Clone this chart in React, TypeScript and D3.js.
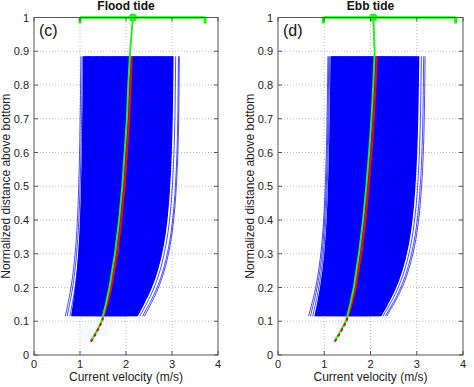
import React from 'react';
import * as d3 from 'd3';

// velocity axis and height axis ticks
const xTicks = [0, 1, 2, 3, 4];
const yTicks = [0, 0.1, 0.2, 0.3, 0.4, 0.5, 0.6, 0.7, 0.8, 0.9, 1];

// levels of the fitted / mean profiles
const fitLevels = [0.04, 0.06, 0.08, 0.1, 0.15, 0.2, 0.3, 0.4, 0.5, 0.6, 0.7, 0.8, 0.9, 1.0];
const floodFit = [1.23, 1.32, 1.4, 1.47, 1.56, 1.64, 1.76, 1.85, 1.92, 1.97, 2.02, 2.05, 2.09, 2.15];
const floodMean = [1.24, 1.33, 1.41, 1.48, 1.59, 1.68, 1.81, 1.9, 1.97, 2.02, 2.07, 2.1, 2.13];
const ebbFit = [1.22, 1.31, 1.39, 1.47, 1.56, 1.64, 1.75, 1.84, 1.91, 1.97, 2.02, 2.06, 2.09, 2.06];
const ebbMean = [1.23, 1.32, 1.4, 1.48, 1.59, 1.68, 1.8, 1.89, 1.96, 2.02, 2.07, 2.11, 2.14];

// surface error bar: [low, centre, high] at z = 1
const floodBar = [1.0, 2.15, 3.72];
const ebbBar = [0.98, 2.06, 3.84];

// measured profiles: velocity at z = 0.115, bend near z = 0.3, and z = 0.885
const floodBottom = [0.68, 0.72, 0.78, 0.82, 0.86, 0.9, 0.93, 0.96, 1.0, 1.03, 1.06, 1.09, 1.12, 1.15, 1.18, 1.21, 1.24, 1.27, 1.3, 1.33, 1.36, 1.39, 1.42, 1.45, 1.48, 1.51, 1.54, 1.57, 1.6, 1.63, 1.66, 1.69, 1.72, 1.75, 1.78, 1.81, 1.84, 1.87, 1.9, 1.93, 1.96, 1.99, 2.02, 2.06, 2.1, 2.14, 2.18, 2.24, 2.3, 2.36, 2.4];
const floodMid = [0.97, 1.0, 1.04, 1.03, 1.09, 1.13, 1.12, 1.19, 1.24, 1.28, 1.32, 1.36, 1.4, 1.44, 1.49, 1.53, 1.57, 1.61, 1.66, 1.7, 1.74, 1.79, 1.83, 1.87, 1.91, 1.96, 2.0, 2.04, 2.08, 2.13, 2.17, 2.21, 2.25, 2.3, 2.34, 2.38, 2.43, 2.47, 2.52, 2.56, 2.6, 2.65, 2.69, 2.74, 2.8, 2.86, 2.91, 2.97, 3.03, 3.1, 3.12];
const floodTop = [1.02, 1.05, 1.1, 1.08, 1.15, 1.2, 1.18, 1.25, 1.3, 1.35, 1.38, 1.42, 1.47, 1.5, 1.55, 1.6, 1.63, 1.68, 1.72, 1.77, 1.8, 1.85, 1.9, 1.93, 1.98, 2.02, 2.06, 2.1, 2.15, 2.19, 2.23, 2.27, 2.32, 2.36, 2.4, 2.45, 2.49, 2.53, 2.58, 2.62, 2.66, 2.71, 2.75, 2.8, 2.86, 2.92, 2.97, 3.02, 3.08, 3.14, 3.16];
const ebbBottom = [0.66, 0.7, 0.75, 0.8, 0.84, 0.88, 0.92, 0.95, 0.99, 1.02, 1.05, 1.08, 1.11, 1.14, 1.17, 1.2, 1.23, 1.26, 1.29, 1.32, 1.35, 1.38, 1.41, 1.44, 1.47, 1.5, 1.53, 1.56, 1.59, 1.62, 1.65, 1.68, 1.71, 1.74, 1.77, 1.8, 1.83, 1.86, 1.89, 1.92, 1.95, 1.98, 2.01, 2.05, 2.09, 2.13, 2.17, 2.22, 2.27, 2.32, 2.35];
const ebbMid = [1.02, 1.04, 1.06, 1.09, 1.12, 1.16, 1.19, 1.22, 1.26, 1.3, 1.34, 1.38, 1.42, 1.46, 1.5, 1.54, 1.58, 1.62, 1.66, 1.7, 1.74, 1.78, 1.82, 1.86, 1.9, 1.94, 1.98, 2.02, 2.06, 2.1, 2.14, 2.18, 2.22, 2.26, 2.3, 2.34, 2.39, 2.44, 2.49, 2.54, 2.59, 2.64, 2.69, 2.74, 2.8, 2.86, 2.92, 2.98, 3.04, 3.1, 3.13];
const ebbTop = [1.08, 1.1, 1.12, 1.15, 1.18, 1.22, 1.25, 1.28, 1.32, 1.36, 1.4, 1.44, 1.48, 1.52, 1.56, 1.6, 1.64, 1.68, 1.72, 1.76, 1.8, 1.84, 1.88, 1.92, 1.96, 2.0, 2.04, 2.08, 2.12, 2.16, 2.2, 2.24, 2.28, 2.32, 2.36, 2.4, 2.45, 2.5, 2.55, 2.6, 2.65, 2.7, 2.75, 2.8, 2.86, 2.92, 2.98, 3.04, 3.1, 3.15, 3.18];

const profileLevels = [0.115, 0.3, 0.885];

const font = 'Liberation Sans, Arial, sans-serif';

type PanelProps = {
  left: number; right: number; title: string; tag: string;
  fit: number[]; mean: number[]; bar: number[];
  bottom: number[]; mid: number[]; top: number[];
};

const Panel = ({ left, right, title, tag, fit, mean, bar, bottom, mid, top }: PanelProps) => {
  const x = d3.scaleLinear().domain([0, 4]).range([left, right]);
  const y = d3.scaleLinear().domain([0, 1]).range([355, 17.5]);

  const line = d3.line<[number, number]>().x(d => x(d[0])).y(d => y(d[1]));
  const smooth = d3.line<[number, number]>().x(d => x(d[0])).y(d => y(d[1])).curve(d3.curveBasis);

  const prof = (i: number) => [bottom[i], mid[i], top[i]];
  const profiles = bottom.map((b, i) =>
    smooth(prof(i).map((u, k) => [u, profileLevels[k]] as [number, number])) || '');

  // solid body between the inner profiles
  const lo = prof(3), hi = prof(bottom.length - 4);
  const body = d3.area<number>()
    .y(k => y(profileLevels[k]))
    .x0(k => x(lo[k]))
    .x1(k => x(hi[k]))
    .curve(d3.curveBasis)([0, 1, 2]) || '';

  const fitPath = line(fitLevels.map((z, i) => [fit[i], z] as [number, number])) || '';
  const meanLevels = fitLevels.slice(0, mean.length);
  const meanAt = d3.scaleLinear().domain(meanLevels).range(mean);
  const meanPts = meanLevels.map((z, i) => [mean[i], z] as [number, number]);
  const cut: [number, number] = [meanAt(0.115), 0.115];
  const meanLow = line(meanPts.filter(p => p[1] < 0.115).concat([cut])) || '';
  const meanHigh = line([cut].concat(meanPts.filter(p => p[1] > 0.115 && p[1] < 0.885)).concat([[meanAt(0.885), 0.885]])) || '';

  const cx = (left + right) / 2;
  return (
    <g fontFamily={font}>
      {/* grid */}
      {xTicks.slice(1, -1).map(t => (
        <line key={'gx' + t} x1={x(t)} x2={x(t)} y1={y(0)} y2={y(1)} stroke="#aaa" strokeWidth={0.8} strokeDasharray="1,2" />
      ))}
      {yTicks.slice(1, -1).map(t => (
        <line key={'gy' + t} x1={x(0)} x2={x(4)} y1={y(t)} y2={y(t)} stroke="#aaa" strokeWidth={0.8} strokeDasharray="1,2" />
      ))}
      {/* measured profiles */}
      <path d={body} fill="#0000f5" />
      {profiles.map((p, i) => (
        <path key={'p' + i} d={p} fill="none" stroke="#0000ff" strokeWidth={i < 3 || i > 47 ? 1 : 1.4} strokeOpacity={i < 3 || i > 47 ? 0.7 : 1} />
      ))}
      {/* mean and fit */}
      <path d={meanHigh} fill="none" stroke="#ff0000" strokeWidth={2} />
      <path d={fitPath} fill="none" stroke="#22ee22" strokeWidth={2} />
      <path d={meanLow} fill="none" stroke="#ee0000" strokeWidth={2} strokeDasharray="3,3" />
      {/* surface error bar */}
      <line x1={x(bar[0])} x2={x(bar[2])} y1={y(1)} y2={y(1)} stroke="#22ee22" strokeWidth={2.5} />
      <rect x={x(bar[0]) - 1.5} y={y(1)} width={3} height={6} fill="#22ee22" />
      <rect x={x(bar[2]) - 1.5} y={y(1)} width={3} height={6} fill="#22ee22" />
      <circle cx={x(bar[1])} cy={y(1)} r={4} fill="#22ee22" />
      {/* frame */}
      <rect x={x(0)} y={y(1)} width={x(4) - x(0)} height={y(0) - y(1)} fill="none" stroke="#555" strokeWidth={1} />
      {xTicks.map(t => (
        <g key={'tx' + t}>
          <line x1={x(t)} x2={x(t)} y1={y(0)} y2={y(0) - 4} stroke="#555" />
          <line x1={x(t)} x2={x(t)} y1={y(1)} y2={y(1) + 4} stroke="#555" />
          <text x={x(t)} y={y(0) + 13} fontSize={11} textAnchor="middle" fill="#222">{t}</text>
        </g>
      ))}
      {yTicks.map(t => (
        <g key={'ty' + t}>
          <line x1={x(0)} x2={x(0) + 4} y1={y(t)} y2={y(t)} stroke="#555" />
          <line x1={x(4)} x2={x(4) - 4} y1={y(t)} y2={y(t)} stroke="#555" />
          <text x={x(0) - 5} y={y(t) + 4} fontSize={11} textAnchor="end" fill="#222">{t}</text>
        </g>
      ))}
      <text x={x(0) + 5} y={36} fontSize={16} fill="#111">{tag}</text>
      <text x={cx} y={10} fontSize={12} fontWeight="bold" textAnchor="middle" fill="#111">{title}</text>
      <text x={cx} y={381} fontSize={12} textAnchor="middle" fill="#222">Current velocity (m/s)</text>
      <text transform={`translate(${left - 24},${(y(0) + y(1)) / 2}) rotate(-90)`} fontSize={12} textAnchor="middle" fill="#222">
        Normalized distance above bottom
      </text>
    </g>
  );
};

export default function App() {
  return (
    <svg width={474} height={387} style={{ position: 'absolute', left: 0, top: 0, background: '#fff' }}>
      <Panel left={34} right={218} title="Flood tide" tag="(c)" fit={floodFit} mean={floodMean} bar={floodBar}
        bottom={floodBottom} mid={floodMid} top={floodTop} />
      <Panel left={278} right={463} title="Ebb tide" tag="(d)" fit={ebbFit} mean={ebbMean} bar={ebbBar}
        bottom={ebbBottom} mid={ebbMid} top={ebbTop} />
    </svg>
  );
}
